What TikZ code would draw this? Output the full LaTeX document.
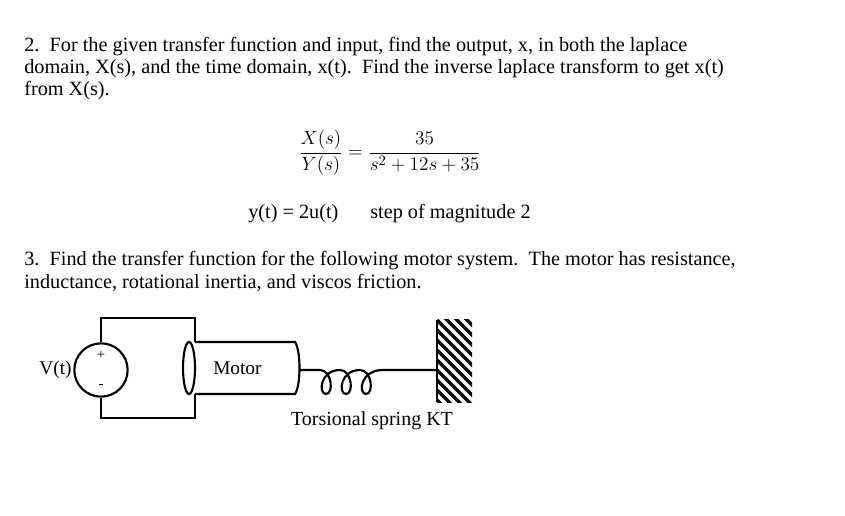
\documentclass[tikz,border=0pt]{standalone}
\usepackage{fontspec}
\setmainfont{Liberation Serif}
\begin{document}
\begin{tikzpicture}[x=0.75pt,y=-0.75pt,
  txt/.style={anchor=west,inner sep=0pt,font=\fontsize{15.2}{17}\selectfont},
  wire/.style={line width=0.9pt},
  thick2/.style={line width=1.6pt}]
\useasboundingbox (0,0) rectangle (845,516);
\node[txt] (l1) at (24,47) {2.\ \ For the given transfer function and input, find the output, x, in both the laplace};
\node[txt] (l2) at (24,69) {domain, X(s), and the time domain, x(t).\ \ Find the inverse laplace transform to get x(t)};
\node[txt] (l3) at (24,91) {from X(s).};
\node[inner sep=0pt,font=\fontsize{15.5}{17}\selectfont] (eq) at (390,153) {$\displaystyle\frac{X(s)}{Y(s)}=\frac{35}{s^2+12s+35}$};
\node[txt] (y1) at (248,214) {y(t) = 2u(t)};
\node[txt] (y2) at (370,214) {step of magnitude 2};
\node[txt] (l4) at (24,261) {3.\ \ Find the transfer function for the following motor system.\ \ The motor has resistance,};
\node[txt] (l5) at (24,283) {inductance, rotational inertia, and viscos friction.};
% circuit
\node[circle,draw,thick2,minimum size=40pt,inner sep=0pt] (src) at (101,370) {};
\draw[wire] (src.north) -- (101,318) -- (195,318) -- (195,342);
\draw[wire] (src.south) -- (101,418) -- (195,418) -- (195,394);
\node[font=\fontsize{11}{12}\selectfont] (plus) at (101,355) {+};
\node[font=\fontsize{11}{12}\selectfont] (minus) at (101,386) {-};
\node[anchor=east,inner sep=1pt,font=\fontsize{14.5}{16}\selectfont] (vt) at (src.west) {V(t)};
% motor
\draw[thick2] (195,342) -- (295,342) .. controls (301,350) and (301,386) .. (295,394) -- (195,394);
\draw[thick2] (189,368) ellipse [x radius=6,y radius=26];
\node[txt,font=\fontsize{14.5}{16}\selectfont] (mot) at (213,368) {Motor};
% shaft and spring
\coordinate (s0) at (299,370);
\coordinate (w0) at (437,370);
\draw[thick2] (s0) -- (320,370)
  .. controls (332,370) and (334,394) .. (326,394) .. controls (318,394) and (320,370) .. (340,370)
  .. controls (352,370) and (354,394) .. (346,394) .. controls (338,394) and (340,370) .. (360,370)
  .. controls (372,370) and (374,394) .. (366,394) .. controls (358,394) and (360,370) .. (383,370)
  -- (w0);
% wall
\draw[thick2] (437,320) -- (437,402);
\begin{scope}
\clip (437,320) rectangle (472,402);
\foreach \k in {-40,-30,...,90} \draw[line width=2.6pt] (437,320+\k) -- (477,360+\k);
\end{scope}
\node[inner sep=0pt,font=\fontsize{15}{17}\selectfont] (ts) at (372,421) {Torsional spring KT};
\end{tikzpicture}
\end{document}
